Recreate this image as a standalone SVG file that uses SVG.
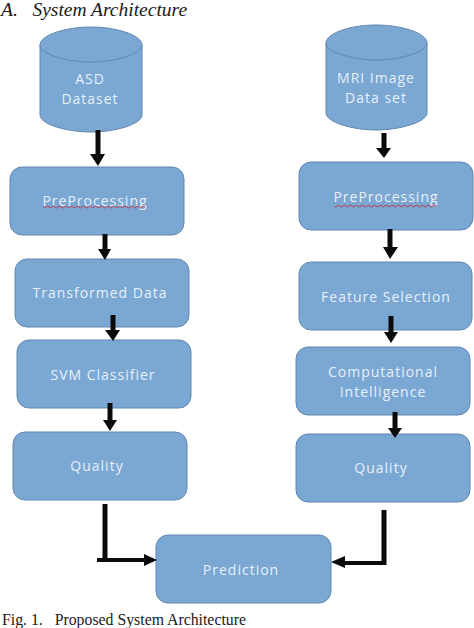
<svg xmlns="http://www.w3.org/2000/svg" width="474" height="628" viewBox="0 0 474 628">
<style>
.n{fill:#7ba7d3;stroke:#6188b0;stroke-width:1}
.l{fill:none;stroke:#6188b0;stroke-width:1}
.t{font-family:"Open Sans","Liberation Sans",sans-serif;font-size:14px;letter-spacing:1px;fill:#e6f0f8;text-anchor:middle}
.c{font-family:"Liberation Serif",serif;fill:#1a1a1a}
.w{fill:none;stroke:#c0394f;stroke-width:1}
.e{stroke:#0a0a0a;stroke-width:5;fill:none}
.h{stroke:#0a0a0a;stroke-width:4;fill:none}
.a{fill:#0a0a0a}
</style>
<rect width="474" height="628" fill="#fff"/>
<text class="c" x="1" y="16" font-size="19.5" font-style="italic" xml:space="preserve">A.   System Architecture</text>
<g id="asd"><path class="n" d="M40 45V115C40 124 66 132 91 132S142 124 142 115V45C142 35 116 27 91 27S40 35 40 45Z"/><path class="l" d="M40 45C40 54 66 62 91 62S142 54 142 45"/><text class="t" x="90" y="84">ASD</text><text class="t" x="90" y="104">Dataset</text></g>
<g id="mri"><path class="n" d="M326 43V113C326 122 352 130 376 130S427 122 427 113V43C427 33 401 25 376 25S326 33 326 43Z"/><path class="l" d="M326 43C326 52 352 60 376 60S427 52 427 43"/><text class="t" x="376" y="83">MRI Image</text><text class="t" x="376" y="103">Data set</text></g>
<g id="pre1"><rect class="n" x="10" y="167" width="174" height="68" rx="12"/><text class="t" x="95" y="206">PreProcessing</text><path class="w" d="M43 207q1.5 2 3 0t3 0 3 0 3 0 3 0 3 0 3 0 3 0 3 0 3 0 3 0 3 0 3 0 3 0 3 0 3 0 3 0 3 0 3 0 3 0 3 0 3 0 3 0 3 0 3 0 3 0 3 0 3 0 3 0 3 0 3 0 3 0 3 0 3 0"/></g>
<g id="pre2"><rect class="n" x="299" y="162" width="174" height="68" rx="12"/><text class="t" x="386" y="202">PreProcessing</text><path class="w" d="M334 206q1.5 2 3 0t3 0 3 0 3 0 3 0 3 0 3 0 3 0 3 0 3 0 3 0 3 0 3 0 3 0 3 0 3 0 3 0 3 0 3 0 3 0 3 0 3 0 3 0 3 0 3 0 3 0 3 0 3 0 3 0 3 0 3 0 3 0 3 0 3 0"/></g>
<g id="transformed"><rect class="n" x="15" y="259" width="174" height="68" rx="12"/><text class="t" x="100" y="298">Transformed Data</text></g>
<g id="feature"><rect class="n" x="299" y="262" width="173" height="68" rx="12"/><text class="t" x="386" y="302">Feature Selection</text></g>
<g id="svm"><rect class="n" x="17" y="340" width="174" height="68" rx="12"/><text class="t" x="103" y="380">SVM Classifier</text></g>
<g id="ci"><rect class="n" x="296" y="347" width="174" height="68" rx="12"/><text class="t" x="383" y="377">Computational</text><text class="t" x="383" y="397">Intelligence</text></g>
<g id="q1"><rect class="n" x="13" y="432" width="174" height="68" rx="12"/><text class="t" x="97" y="471">Quality</text></g>
<g id="q2"><rect class="n" x="296" y="434" width="174" height="68" rx="12"/><text class="t" x="381" y="473">Quality</text></g>
<g id="pred"><rect class="n" x="156" y="535" width="175" height="68" rx="12"/><text class="t" x="241" y="575">Prediction</text></g>
<g id="connectors">
<path class="e" d="M98 130V155"/><path class="a" d="M90 154H105L98 166Z"/>
<path class="e" d="M105 234V250"/><path class="a" d="M98 249H111L105 260Z"/>
<path class="e" d="M113 315V331"/><path class="a" d="M105 330H120L113 341Z"/>
<path class="e" d="M110 403V420"/><path class="a" d="M103 420H117L110 431Z"/>
<path class="e" d="M384 133V149"/><path class="a" d="M376 148H391L384 158Z"/>
<path class="e" d="M390 229V248"/><path class="a" d="M383 247H398L390 259Z"/>
<path class="e" d="M391 316V333"/><path class="a" d="M384 332H398L391 343Z"/>
<path class="e" d="M395 412V428"/><path class="a" d="M388 428H402L395 438Z"/>
<path class="e" d="M105 504V558"/><path class="h" d="M97 560H146"/><path class="a" d="M144 554L157 560L144 566Z"/>
<path class="e" d="M384 510V565"/><path class="h" d="M386 563H344"/><path class="a" d="M345 556L331 562L345 568Z"/>
</g>
<text class="c" x="2" y="625" font-size="15.8" xml:space="preserve">Fig. 1.   Proposed System Architecture</text>
</svg>
